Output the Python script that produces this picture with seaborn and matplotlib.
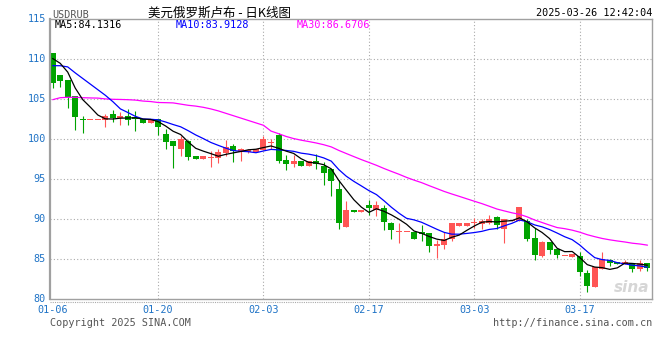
import matplotlib
matplotlib.use('Agg')
import matplotlib.pyplot as plt
import numpy as np
import pandas as pd
import seaborn as sns

# daily candles, 2025-01-06 .. 2025-03-26 (every calendar day)
dates = pd.date_range('2025-01-06', '2025-03-26', freq='D')

opens = [110.7, 108.0, 107.3, 105.3, 102.28, 102.26, 102.26, 102.26, 103.05, 102.6,
         102.8, 102.75, 102.4, 102.0, 102.38, 100.56, 99.7, 98.7, 99.7, 97.83,
         97.5, 97.52, 97.54, 98.24, 99.07, 98.29, 98.3, 98.3, 98.57, 99.4,
         100.43, 97.33, 96.83, 97.2, 96.62, 97.2, 96.62, 96.2, 93.73, 88.92,
         91.12, 90.83, 91.74, 91.12, 91.37, 89.4, 88.3, 88.26, 88.26, 88.3,
         88.18, 86.56, 86.66, 87.39, 89.04, 89.04, 89.45, 89.34, 89.47, 90.14,
         88.74, 89.72, 89.7, 89.7, 87.52, 85.32, 87.03, 86.15, 85.28, 85.22,
         85.3, 83.17, 81.44, 83.67, 84.8, 84.57, 84.29, 84.4, 83.7, 84.45]
highs = [110.7, 108.0, 107.3, 105.3, 102.8, 102.26, 102.26, 103.05, 103.55, 103.35,
         103.65, 103.4, 102.4, 102.38, 102.38, 101.2, 99.7, 100.3, 99.8, 97.83,
         97.83, 98.5, 98.66, 99.81, 99.28, 98.86, 98.7, 98.65, 100.35, 99.94,
         100.65, 97.95, 97.95, 97.2, 97.2, 98.07, 97.12, 96.2, 94.76, 92.24,
         91.12, 91.12, 92.36, 92.24, 91.74, 89.6, 89.4, 88.26, 88.26, 89.25,
         88.18, 87.3, 88.3, 89.47, 89.5, 89.5, 90.05, 89.9, 90.41, 90.37,
         90.0, 89.85, 91.5, 89.9, 88.85, 87.2, 87.03, 86.15, 85.28, 85.53,
         85.81, 83.6, 83.92, 85.87, 84.9, 84.6, 84.8, 84.5, 84.8, 84.5]
lows = [106.3, 106.4, 103.8, 101.1, 100.65, 102.26, 102.26, 101.5, 102.1, 101.7,
        101.75, 100.95, 101.97, 102.0, 100.45, 98.7, 96.37, 97.8, 97.33, 97.5,
        97.5, 96.4, 96.9, 97.8, 97.12, 97.25, 98.2, 98.3, 98.57, 98.66,
        96.99, 96.09, 96.45, 96.62, 96.62, 96.25, 94.14, 92.77, 88.72, 88.92,
        90.83, 90.83, 90.5, 90.29, 88.53, 87.5, 86.9, 88.26, 87.42, 87.2,
        85.81, 85.07, 86.24, 87.2, 89.04, 89.04, 88.85, 88.72, 89.3, 88.7,
        86.95, 89.72, 89.7, 87.2, 84.82, 85.2, 85.53, 85.12, 85.28, 85.22,
        82.83, 80.84, 81.44, 83.67, 84.1, 84.29, 84.29, 83.3, 83.5, 83.5]
closes = [106.9, 107.2, 105.2, 102.7, 102.26, 102.26, 102.26, 102.8, 102.6, 102.8,
          102.35, 102.4, 101.97, 102.38, 101.47, 99.6, 99.1, 99.94, 97.74, 97.5,
          97.83, 97.56, 98.29, 98.9, 98.45, 98.7, 98.6, 98.65, 99.94, 99.45,
          97.24, 96.83, 97.22, 96.62, 97.2, 96.83, 95.75, 94.63, 89.4, 91.12,
          90.83, 91.12, 91.37, 91.65, 89.54, 88.55, 88.4, 88.26, 87.42, 88.12,
          86.56, 86.77, 87.39, 89.42, 89.5, 89.5, 89.5, 89.75, 89.88, 89.2,
          90.0, 89.85, 91.5, 87.39, 85.44, 87.08, 86.04, 85.44, 85.28, 85.53,
          83.33, 81.59, 83.92, 84.91, 84.45, 84.29, 84.57, 83.7, 84.45, 83.8]

ma5_head = [110.0, 109.4, 108.3, 106.3]
ma10_head = [109.1, 109.1, 108.95, 108.2, 107.5, 106.8, 106.1, 105.4, 104.6]
ma30_head = [104.85, 105.1, 105.15, 105.15, 105.1, 105.07, 105.05, 104.95, 104.9, 104.88,
             104.85, 104.8, 104.68, 104.62, 104.5, 104.48, 104.45, 104.3, 104.15, 104.05,
             103.9, 103.7, 103.45, 103.15, 102.85, 102.55, 102.25, 101.95, 101.65]

tick_labels = ['01-06', '01-20', '02-03', '02-17', '03-03', '03-17']
y_ticks = [80, 85, 90, 95, 100, 105, 110, 115]

GREEN = '#00a300'
RED = '#ff5555'
BLUE_TXT = '#1f73c6'
GRID = '#aaaaaa'

df = pd.DataFrame({'x': np.arange(len(dates)), 'open': opens, 'high': highs,
                   'low': lows, 'close': closes})
df['ma5'] = df['close'].rolling(5).mean()
df['ma10'] = df['close'].rolling(10).mean()
df['ma30'] = df['close'].rolling(30).mean()
df.loc[:len(ma5_head) - 1, 'ma5'] = ma5_head
df.loc[:len(ma10_head) - 1, 'ma10'] = ma10_head
df.loc[:len(ma30_head) - 1, 'ma30'] = ma30_head

sns.set_style('white')
plt.rcParams['font.family'] = ['DejaVu Sans Mono', 'Noto Sans CJK SC']

fig = plt.figure(figsize=(6.6, 3.6), dpi=100)
ax = fig.add_axes([49.5 / 660, 1 - 298.5 / 360, (652 - 49.5) / 660, (298.5 - 18.5) / 360])

# candles
up = df['close'] >= df['open']
colors = np.where(up, RED, GREEN)
ax.vlines(df['x'], df['low'], df['high'], colors=colors, lw=0.8, zorder=2)
body = (df['close'] - df['open']).abs().clip(lower=0.12)
ax.bar(df['x'], body, bottom=df[['open', 'close']].min(axis=1), width=0.8,
       color=colors, linewidth=0, zorder=2)

# moving averages
sns.lineplot(data=df, x='x', y='ma30', color='#ff00ff', lw=0.9, ax=ax, zorder=3)
sns.lineplot(data=df, x='x', y='ma10', color='#0000ff', lw=0.9, ax=ax, zorder=3)
sns.lineplot(data=df, x='x', y='ma5', color='black', lw=0.9, ax=ax, zorder=3)

ax.set_xlim(-0.42, 79.6)
ax.set_ylim(80, 115)

day_str = dates.strftime('%m-%d')
tick_pos = [int(np.where(day_str == t)[0][0]) for t in tick_labels]
ax.set_xticks(tick_pos)
ax.set_xticklabels(tick_labels)
ax.set_yticks(y_ticks)
ax.set_yticklabels([str(v) for v in y_ticks])
ax.tick_params(length=0, labelsize=7.3, colors=BLUE_TXT)
ax.tick_params(axis='x', pad=4.5)
ax.tick_params(axis='y', pad=2.5)
ax.set_xlabel('')
ax.set_ylabel('')

for v in y_ticks[1:-1]:
    ax.axhline(v, color=GRID, lw=0.8, ls=(0, (1, 2)), zorder=1)
for p in tick_pos[1:]:
    ax.axvline(p, color=GRID, lw=0.8, ls=(0, (1, 2)), zorder=1)

for s in ax.spines.values():
    s.set_color('#a0a0a0')
    s.set_linewidth(1.0)
ax.spines['left'].set_linewidth(1.6)

ax.plot([0, 1], [-0.011, -0.011], transform=ax.transAxes, clip_on=False,
        color=GRID, lw=0.8, ls=(0, (1, 1)))

# texts
def px(x, y):
    return x / 660, 1 - y / 360

fig.text(*px(52, 14.5), 'USDRUB', fontsize=7.3, color='#555555', ha='left', va='center')
fig.text(*px(220, 13), '美元俄罗斯卢布 - 日K线图', fontsize=9, color='black', ha='center',
         va='center', family=['Noto Sans CJK SC', 'DejaVu Sans'])
fig.text(*px(652, 12.5), '2025-03-26 12:42:04', fontsize=7.3, color='black', ha='right', va='center')
fig.text(*px(55, 24.5), 'MA5:84.1316', fontsize=7.3, color='black', ha='left', va='center')
fig.text(*px(176, 24.5), 'MA10:83.9128', fontsize=7.3, color='#0000ff', ha='left', va='center')
fig.text(*px(297, 24.5), 'MA30:86.6706', fontsize=7.3, color='#ff00ff', ha='left', va='center')
fig.text(*px(50, 323.5), 'Copyright 2025 SINA.COM', fontsize=7.3, color='#555555', ha='left', va='center')
fig.text(*px(652, 323.5), 'http://finance.sina.com.cn', fontsize=7.3, color='#555555', ha='right', va='center')
fig.text(*px(632, 288), 'sina', fontsize=11, color='#d6d6d6', ha='center', va='center',
         style='italic', weight='bold', family='DejaVu Sans')

fig.savefig('out.png', dpi=100)
